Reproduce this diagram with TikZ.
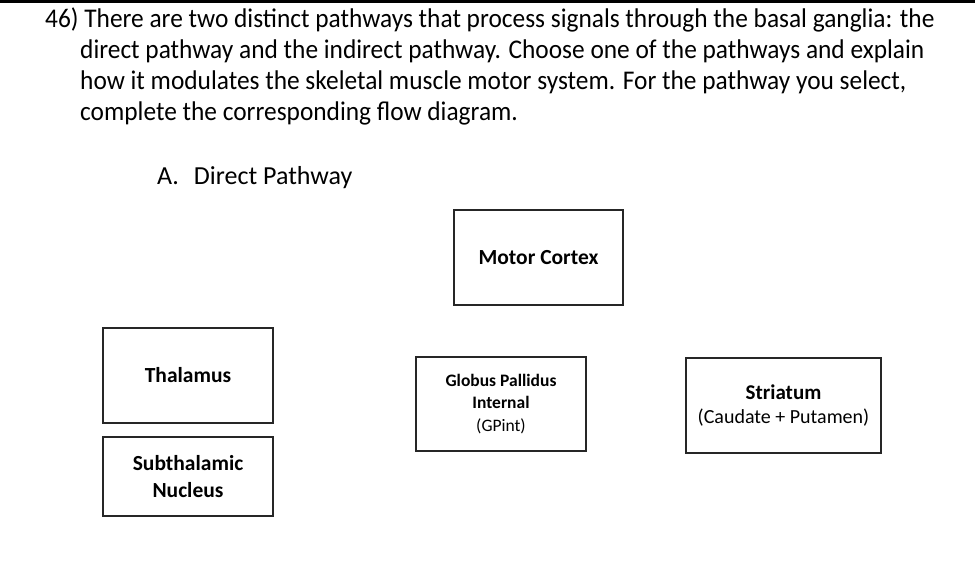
\documentclass[tikz,border=0pt]{standalone}
\usepackage{fontspec}
\setmainfont{Carlito}
\newfontfamily\qfont{Carlito}[FakeStretch=0.94]
\usepackage{tikz}
\tikzset{
  every question line/.style={anchor=base west,inner sep=0pt,font=\qfont\fontsize{27}{31}\selectfont},
  region box/.style={draw=black!85,line width=1.4pt,align=center,inner sep=2pt,
    font=\bfseries\fontsize{21.5}{27}\selectfont},
}

\begin{document}
\begin{tikzpicture}[x=1pt,y=-1pt]
\useasboundingbox (0,0) rectangle (975,571);
\draw[line width=3pt] (0,1.5) -- (975,1.5);
\node[every question line] (q1) at (45,27) {46) There are two distinct pathways that process signals through the basal ganglia: the};
\node[every question line] (q2) at (80,58) {direct pathway and the indirect pathway. Choose one of the pathways and explain};
\node[every question line] (q3) at (80,89) {how it modulates the skeletal muscle motor system. For the pathway you select,};
\node[every question line] (q4) at (80,120) {complete the corresponding flow diagram.};
\node[anchor=base west,inner sep=0pt,font=\fontsize{26}{30}\selectfont] (part) at (157,184) {A.\hspace{15pt}Direct Pathway};
% boxes of the direct pathway
\node[region box,minimum width=169pt,minimum height=95pt] (cortex) at (538.5,257.5) {Motor Cortex};
\node[region box,minimum width=170pt,minimum height=95pt] (thal) at (188,375.5) {Thalamus};
\node[region box,minimum width=170pt,minimum height=79pt] (stn) at (188,476.5) {Subthalamic\\Nucleus};
\node[region box,minimum width=170pt,minimum height=94pt,font=\bfseries\fontsize{17.5}{22.5}\selectfont] (gpi) at (501,404)
  {Globus Pallidus\\Internal\\\mdseries(GPint)};
\node[region box,minimum width=195pt,minimum height=95pt,font=\bfseries\fontsize{21}{24}\selectfont] (str) at (783.5,405.5)
  {Striatum\\\mdseries\fontsize{20}{24}\selectfont(Caudate + Putamen)};
\end{tikzpicture}
\end{document}
